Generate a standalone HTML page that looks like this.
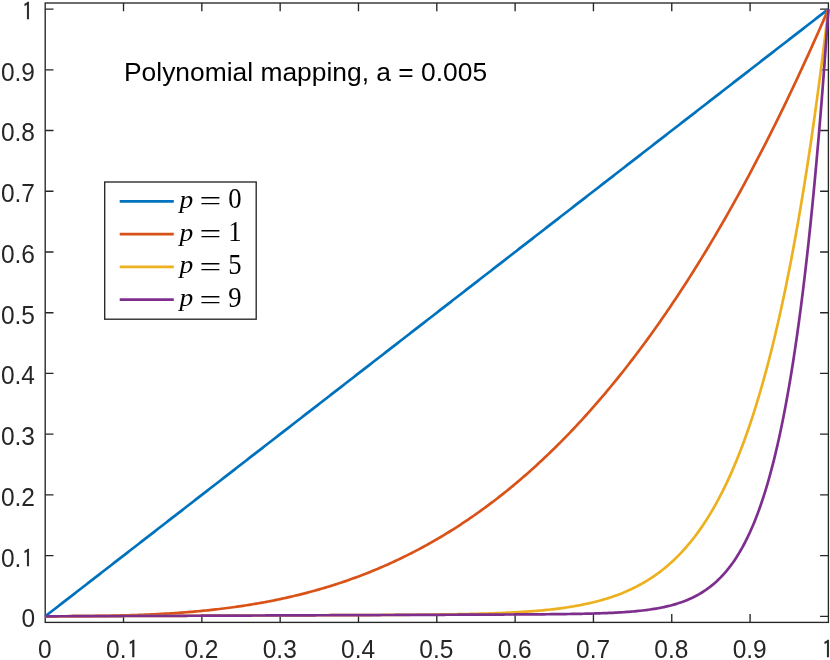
<!DOCTYPE html>
<html><head><meta charset="utf-8"><title>Polynomial mapping</title>
<style>
html,body{margin:0;padding:0;background:#fff;}
svg{display:block}
text{font-family:"Liberation Sans",Arial,Helvetica,sans-serif;font-size:24.5px;fill:#262626}
tspan.one{font-family:"IPAGothic","Liberation Sans",sans-serif;font-size:0.925em;stroke:#262626;stroke-width:.25px}
.lg text{font-family:"Liberation Serif","Times New Roman",serif;font-size:26.7px;fill:#000}
text.ttl{font-size:26.4px;fill:#000}
</style></head><body>
<svg width="830" height="660" viewBox="0 0 830 660">
<rect width="830" height="660" fill="#fff"/>
<g stroke="#262626" stroke-width="1.35" fill="none">
<rect x="45.2" y="3.0" width="783.1999999999999" height="619.4"/>
<path d="M45.2,616.33 h8.3 M828.4,616.33 h-8.3"/>
<path d="M123.52,622.4 v-8.3 M123.52,3.0 v8.3"/>
<path d="M45.2,555.60 h8.3 M828.4,555.60 h-8.3"/>
<path d="M201.84,622.4 v-8.3 M201.84,3.0 v8.3"/>
<path d="M45.2,494.88 h8.3 M828.4,494.88 h-8.3"/>
<path d="M280.16,622.4 v-8.3 M280.16,3.0 v8.3"/>
<path d="M45.2,434.15 h8.3 M828.4,434.15 h-8.3"/>
<path d="M358.48,622.4 v-8.3 M358.48,3.0 v8.3"/>
<path d="M45.2,373.43 h8.3 M828.4,373.43 h-8.3"/>
<path d="M436.80,622.4 v-8.3 M436.80,3.0 v8.3"/>
<path d="M45.2,312.70 h8.3 M828.4,312.70 h-8.3"/>
<path d="M515.12,622.4 v-8.3 M515.12,3.0 v8.3"/>
<path d="M45.2,251.97 h8.3 M828.4,251.97 h-8.3"/>
<path d="M593.44,622.4 v-8.3 M593.44,3.0 v8.3"/>
<path d="M45.2,191.25 h8.3 M828.4,191.25 h-8.3"/>
<path d="M671.76,622.4 v-8.3 M671.76,3.0 v8.3"/>
<path d="M45.2,130.52 h8.3 M828.4,130.52 h-8.3"/>
<path d="M750.08,622.4 v-8.3 M750.08,3.0 v8.3"/>
<path d="M45.2,69.80 h8.3 M828.4,69.80 h-8.3"/>
<path d="M45.2,9.07 h8.3 M828.4,9.07 h-8.3"/>
</g>
<g>
<path d="M45.20,616.33 L47.16,614.81 L49.12,613.29 L51.07,611.77 L53.03,610.25 L54.99,608.74 L56.95,607.22 L58.91,605.70 L60.86,604.18 L62.82,602.66 L64.78,601.15 L66.74,599.63 L68.70,598.11 L70.65,596.59 L72.61,595.07 L74.57,593.56 L76.53,592.04 L78.49,590.52 L80.44,589.00 L82.40,587.48 L84.36,585.96 L86.32,584.45 L88.28,582.93 L90.23,581.41 L92.19,579.89 L94.15,578.37 L96.11,576.86 L98.07,575.34 L100.02,573.82 L101.98,572.30 L103.94,570.78 L105.90,569.27 L107.86,567.75 L109.81,566.23 L111.77,564.71 L113.73,563.19 L115.69,561.67 L117.65,560.16 L119.60,558.64 L121.56,557.12 L123.52,555.60 L125.48,554.08 L127.44,552.57 L129.39,551.05 L131.35,549.53 L133.31,548.01 L135.27,546.49 L137.23,544.98 L139.18,543.46 L141.14,541.94 L143.10,540.42 L145.06,538.90 L147.02,537.38 L148.97,535.87 L150.93,534.35 L152.89,532.83 L154.85,531.31 L156.81,529.79 L158.76,528.28 L160.72,526.76 L162.68,525.24 L164.64,523.72 L166.60,522.20 L168.55,520.68 L170.51,519.17 L172.47,517.65 L174.43,516.13 L176.39,514.61 L178.34,513.09 L180.30,511.58 L182.26,510.06 L184.22,508.54 L186.18,507.02 L188.13,505.50 L190.09,503.99 L192.05,502.47 L194.01,500.95 L195.97,499.43 L197.92,497.91 L199.88,496.39 L201.84,494.88 L203.80,493.36 L205.76,491.84 L207.71,490.32 L209.67,488.80 L211.63,487.29 L213.59,485.77 L215.55,484.25 L217.50,482.73 L219.46,481.21 L221.42,479.70 L223.38,478.18 L225.34,476.66 L227.29,475.14 L229.25,473.62 L231.21,472.10 L233.17,470.59 L235.13,469.07 L237.08,467.55 L239.04,466.03 L241.00,464.51 L242.96,463.00 L244.92,461.48 L246.87,459.96 L248.83,458.44 L250.79,456.92 L252.75,455.40 L254.71,453.89 L256.66,452.37 L258.62,450.85 L260.58,449.33 L262.54,447.81 L264.50,446.30 L266.45,444.78 L268.41,443.26 L270.37,441.74 L272.33,440.22 L274.29,438.71 L276.24,437.19 L278.20,435.67 L280.16,434.15 L282.12,432.63 L284.08,431.11 L286.03,429.60 L287.99,428.08 L289.95,426.56 L291.91,425.04 L293.87,423.52 L295.82,422.01 L297.78,420.49 L299.74,418.97 L301.70,417.45 L303.66,415.93 L305.61,414.42 L307.57,412.90 L309.53,411.38 L311.49,409.86 L313.45,408.34 L315.40,406.82 L317.36,405.31 L319.32,403.79 L321.28,402.27 L323.24,400.75 L325.19,399.23 L327.15,397.72 L329.11,396.20 L331.07,394.68 L333.03,393.16 L334.98,391.64 L336.94,390.12 L338.90,388.61 L340.86,387.09 L342.82,385.57 L344.77,384.05 L346.73,382.53 L348.69,381.02 L350.65,379.50 L352.61,377.98 L354.56,376.46 L356.52,374.94 L358.48,373.43 L360.44,371.91 L362.40,370.39 L364.35,368.87 L366.31,367.35 L368.27,365.83 L370.23,364.32 L372.19,362.80 L374.14,361.28 L376.10,359.76 L378.06,358.24 L380.02,356.73 L381.98,355.21 L383.93,353.69 L385.89,352.17 L387.85,350.65 L389.81,349.14 L391.77,347.62 L393.72,346.10 L395.68,344.58 L397.64,343.06 L399.60,341.54 L401.56,340.03 L403.51,338.51 L405.47,336.99 L407.43,335.47 L409.39,333.95 L411.35,332.44 L413.30,330.92 L415.26,329.40 L417.22,327.88 L419.18,326.36 L421.14,324.85 L423.09,323.33 L425.05,321.81 L427.01,320.29 L428.97,318.77 L430.93,317.25 L432.88,315.74 L434.84,314.22 L436.80,312.70 L438.76,311.18 L440.72,309.66 L442.67,308.15 L444.63,306.63 L446.59,305.11 L448.55,303.59 L450.51,302.07 L452.46,300.55 L454.42,299.04 L456.38,297.52 L458.34,296.00 L460.30,294.48 L462.25,292.96 L464.21,291.45 L466.17,289.93 L468.13,288.41 L470.09,286.89 L472.04,285.37 L474.00,283.86 L475.96,282.34 L477.92,280.82 L479.88,279.30 L481.83,277.78 L483.79,276.26 L485.75,274.75 L487.71,273.23 L489.67,271.71 L491.62,270.19 L493.58,268.67 L495.54,267.16 L497.50,265.64 L499.46,264.12 L501.41,262.60 L503.37,261.08 L505.33,259.57 L507.29,258.05 L509.25,256.53 L511.20,255.01 L513.16,253.49 L515.12,251.97 L517.08,250.46 L519.04,248.94 L520.99,247.42 L522.95,245.90 L524.91,244.38 L526.87,242.87 L528.83,241.35 L530.78,239.83 L532.74,238.31 L534.70,236.79 L536.66,235.27 L538.62,233.76 L540.57,232.24 L542.53,230.72 L544.49,229.20 L546.45,227.68 L548.41,226.17 L550.36,224.65 L552.32,223.13 L554.28,221.61 L556.24,220.09 L558.20,218.58 L560.15,217.06 L562.11,215.54 L564.07,214.02 L566.03,212.50 L567.99,210.98 L569.94,209.47 L571.90,207.95 L573.86,206.43 L575.82,204.91 L577.78,203.39 L579.73,201.88 L581.69,200.36 L583.65,198.84 L585.61,197.32 L587.57,195.80 L589.52,194.29 L591.48,192.77 L593.44,191.25 L595.40,189.73 L597.36,188.21 L599.31,186.69 L601.27,185.18 L603.23,183.66 L605.19,182.14 L607.15,180.62 L609.10,179.10 L611.06,177.59 L613.02,176.07 L614.98,174.55 L616.94,173.03 L618.89,171.51 L620.85,170.00 L622.81,168.48 L624.77,166.96 L626.73,165.44 L628.68,163.92 L630.64,162.40 L632.60,160.89 L634.56,159.37 L636.52,157.85 L638.47,156.33 L640.43,154.81 L642.39,153.30 L644.35,151.78 L646.31,150.26 L648.26,148.74 L650.22,147.22 L652.18,145.70 L654.14,144.19 L656.10,142.67 L658.05,141.15 L660.01,139.63 L661.97,138.11 L663.93,136.60 L665.89,135.08 L667.84,133.56 L669.80,132.04 L671.76,130.52 L673.72,129.01 L675.68,127.49 L677.63,125.97 L679.59,124.45 L681.55,122.93 L683.51,121.41 L685.47,119.90 L687.42,118.38 L689.38,116.86 L691.34,115.34 L693.30,113.82 L695.26,112.31 L697.21,110.79 L699.17,109.27 L701.13,107.75 L703.09,106.23 L705.05,104.72 L707.00,103.20 L708.96,101.68 L710.92,100.16 L712.88,98.64 L714.84,97.12 L716.79,95.61 L718.75,94.09 L720.71,92.57 L722.67,91.05 L724.63,89.53 L726.58,88.02 L728.54,86.50 L730.50,84.98 L732.46,83.46 L734.42,81.94 L736.37,80.42 L738.33,78.91 L740.29,77.39 L742.25,75.87 L744.21,74.35 L746.16,72.83 L748.12,71.32 L750.08,69.80 L752.04,68.28 L754.00,66.76 L755.95,65.24 L757.91,63.73 L759.87,62.21 L761.83,60.69 L763.79,59.17 L765.74,57.65 L767.70,56.13 L769.66,54.62 L771.62,53.10 L773.58,51.58 L775.53,50.06 L777.49,48.54 L779.45,47.03 L781.41,45.51 L783.37,43.99 L785.32,42.47 L787.28,40.95 L789.24,39.44 L791.20,37.92 L793.16,36.40 L795.11,34.88 L797.07,33.36 L799.03,31.84 L800.99,30.33 L802.95,28.81 L804.90,27.29 L806.86,25.77 L808.82,24.25 L810.78,22.74 L812.74,21.22 L814.69,19.70 L816.65,18.18 L818.61,16.66 L820.57,15.15 L822.53,13.63 L824.48,12.11 L826.44,10.59 L828.40,9.07" fill="none" stroke="#0072BD" stroke-width="2.7" stroke-linejoin="round"/>
<path d="M45.20,616.33 L47.16,616.32 L49.12,616.31 L51.07,616.30 L53.03,616.30 L54.99,616.29 L56.95,616.28 L58.91,616.27 L60.86,616.26 L62.82,616.25 L64.78,616.24 L66.74,616.23 L68.70,616.22 L70.65,616.21 L72.61,616.20 L74.57,616.18 L76.53,616.17 L78.49,616.15 L80.44,616.14 L82.40,616.12 L84.36,616.10 L86.32,616.08 L88.28,616.06 L90.23,616.04 L92.19,616.01 L94.15,615.99 L96.11,615.96 L98.07,615.94 L100.02,615.91 L101.98,615.88 L103.94,615.84 L105.90,615.81 L107.86,615.78 L109.81,615.74 L111.77,615.70 L113.73,615.66 L115.69,615.61 L117.65,615.57 L119.60,615.52 L121.56,615.47 L123.52,615.42 L125.48,615.37 L127.44,615.31 L129.39,615.25 L131.35,615.19 L133.31,615.13 L135.27,615.06 L137.23,614.99 L139.18,614.92 L141.14,614.84 L143.10,614.77 L145.06,614.69 L147.02,614.61 L148.97,614.52 L150.93,614.43 L152.89,614.34 L154.85,614.24 L156.81,614.15 L158.76,614.05 L160.72,613.94 L162.68,613.83 L164.64,613.72 L166.60,613.61 L168.55,613.49 L170.51,613.37 L172.47,613.24 L174.43,613.11 L176.39,612.98 L178.34,612.84 L180.30,612.70 L182.26,612.56 L184.22,612.41 L186.18,612.26 L188.13,612.10 L190.09,611.94 L192.05,611.78 L194.01,611.61 L195.97,611.43 L197.92,611.26 L199.88,611.07 L201.84,610.89 L203.80,610.70 L205.76,610.50 L207.71,610.30 L209.67,610.09 L211.63,609.88 L213.59,609.67 L215.55,609.45 L217.50,609.23 L219.46,609.00 L221.42,608.76 L223.38,608.52 L225.34,608.28 L227.29,608.03 L229.25,607.77 L231.21,607.51 L233.17,607.25 L235.13,606.97 L237.08,606.70 L239.04,606.42 L241.00,606.13 L242.96,605.83 L244.92,605.53 L246.87,605.23 L248.83,604.92 L250.79,604.60 L252.75,604.28 L254.71,603.95 L256.66,603.61 L258.62,603.27 L260.58,602.93 L262.54,602.57 L264.50,602.21 L266.45,601.85 L268.41,601.47 L270.37,601.10 L272.33,600.71 L274.29,600.32 L276.24,599.92 L278.20,599.51 L280.16,599.10 L282.12,598.68 L284.08,598.26 L286.03,597.83 L287.99,597.39 L289.95,596.94 L291.91,596.49 L293.87,596.02 L295.82,595.56 L297.78,595.08 L299.74,594.60 L301.70,594.11 L303.66,593.61 L305.61,593.11 L307.57,592.59 L309.53,592.07 L311.49,591.55 L313.45,591.01 L315.40,590.47 L317.36,589.92 L319.32,589.36 L321.28,588.79 L323.24,588.22 L325.19,587.63 L327.15,587.04 L329.11,586.44 L331.07,585.84 L333.03,585.22 L334.98,584.60 L336.94,583.97 L338.90,583.33 L340.86,582.68 L342.82,582.02 L344.77,581.35 L346.73,580.68 L348.69,579.99 L350.65,579.30 L352.61,578.60 L354.56,577.89 L356.52,577.17 L358.48,576.44 L360.44,575.71 L362.40,574.96 L364.35,574.20 L366.31,573.44 L368.27,572.67 L370.23,571.88 L372.19,571.09 L374.14,570.29 L376.10,569.48 L378.06,568.65 L380.02,567.82 L381.98,566.98 L383.93,566.13 L385.89,565.27 L387.85,564.40 L389.81,563.52 L391.77,562.63 L393.72,561.73 L395.68,560.82 L397.64,559.90 L399.60,558.97 L401.56,558.03 L403.51,557.08 L405.47,556.12 L407.43,555.15 L409.39,554.16 L411.35,553.17 L413.30,552.17 L415.26,551.15 L417.22,550.13 L419.18,549.09 L421.14,548.05 L423.09,546.99 L425.05,545.92 L427.01,544.84 L428.97,543.75 L430.93,542.65 L432.88,541.54 L434.84,540.42 L436.80,539.28 L438.76,538.14 L440.72,536.98 L442.67,535.81 L444.63,534.63 L446.59,533.44 L448.55,532.23 L450.51,531.02 L452.46,529.79 L454.42,528.55 L456.38,527.30 L458.34,526.04 L460.30,524.76 L462.25,523.48 L464.21,522.18 L466.17,520.87 L468.13,519.55 L470.09,518.21 L472.04,516.86 L474.00,515.50 L475.96,514.13 L477.92,512.75 L479.88,511.35 L481.83,509.94 L483.79,508.52 L485.75,507.08 L487.71,505.63 L489.67,504.17 L491.62,502.70 L493.58,501.21 L495.54,499.71 L497.50,498.20 L499.46,496.68 L501.41,495.14 L503.37,493.59 L505.33,492.02 L507.29,490.44 L509.25,488.85 L511.20,487.25 L513.16,485.63 L515.12,483.99 L517.08,482.35 L519.04,480.69 L520.99,479.02 L522.95,477.33 L524.91,475.63 L526.87,473.91 L528.83,472.19 L530.78,470.44 L532.74,468.69 L534.70,466.92 L536.66,465.13 L538.62,463.33 L540.57,461.52 L542.53,459.69 L544.49,457.85 L546.45,455.99 L548.41,454.12 L550.36,452.24 L552.32,450.34 L554.28,448.42 L556.24,446.49 L558.20,444.55 L560.15,442.59 L562.11,440.61 L564.07,438.62 L566.03,436.62 L567.99,434.60 L569.94,432.57 L571.90,430.52 L573.86,428.45 L575.82,426.37 L577.78,424.28 L579.73,422.17 L581.69,420.04 L583.65,417.90 L585.61,415.74 L587.57,413.57 L589.52,411.38 L591.48,409.18 L593.44,406.96 L595.40,404.72 L597.36,402.47 L599.31,400.20 L601.27,397.92 L603.23,395.62 L605.19,393.30 L607.15,390.97 L609.10,388.62 L611.06,386.25 L613.02,383.87 L614.98,381.47 L616.94,379.06 L618.89,376.63 L620.85,374.18 L622.81,371.72 L624.77,369.24 L626.73,366.74 L628.68,364.22 L630.64,361.69 L632.60,359.15 L634.56,356.58 L636.52,354.00 L638.47,351.40 L640.43,348.78 L642.39,346.15 L644.35,343.50 L646.31,340.83 L648.26,338.14 L650.22,335.44 L652.18,332.72 L654.14,329.98 L656.10,327.23 L658.05,324.45 L660.01,321.66 L661.97,318.85 L663.93,316.03 L665.89,313.18 L667.84,310.32 L669.80,307.44 L671.76,304.54 L673.72,301.62 L675.68,298.69 L677.63,295.73 L679.59,292.76 L681.55,289.77 L683.51,286.76 L685.47,283.74 L687.42,280.69 L689.38,277.63 L691.34,274.54 L693.30,271.44 L695.26,268.32 L697.21,265.18 L699.17,262.03 L701.13,258.85 L703.09,255.65 L705.05,252.44 L707.00,249.21 L708.96,245.95 L710.92,242.68 L712.88,239.39 L714.84,236.08 L716.79,232.75 L718.75,229.40 L720.71,226.03 L722.67,222.64 L724.63,219.23 L726.58,215.81 L728.54,212.36 L730.50,208.89 L732.46,205.40 L734.42,201.90 L736.37,198.37 L738.33,194.82 L740.29,191.26 L742.25,187.67 L744.21,184.06 L746.16,180.44 L748.12,176.79 L750.08,173.12 L752.04,169.43 L754.00,165.72 L755.95,161.99 L757.91,158.24 L759.87,154.47 L761.83,150.68 L763.79,146.87 L765.74,143.04 L767.70,139.18 L769.66,135.31 L771.62,131.41 L773.58,127.50 L775.53,123.56 L777.49,119.60 L779.45,115.62 L781.41,111.62 L783.37,107.60 L785.32,103.55 L787.28,99.49 L789.24,95.40 L791.20,91.29 L793.16,87.16 L795.11,83.01 L797.07,78.84 L799.03,74.64 L800.99,70.43 L802.95,66.19 L804.90,61.93 L806.86,57.65 L808.82,53.34 L810.78,49.01 L812.74,44.67 L814.69,40.30 L816.65,35.90 L818.61,31.49 L820.57,27.05 L822.53,22.59 L824.48,18.11 L826.44,13.60 L828.40,9.07" fill="none" stroke="#D95319" stroke-width="2.7" stroke-linejoin="round"/>
<path d="M45.20,616.33 L47.16,616.32 L49.12,616.31 L51.07,616.30 L53.03,616.30 L54.99,616.29 L56.95,616.28 L58.91,616.27 L60.86,616.27 L62.82,616.26 L64.78,616.25 L66.74,616.24 L68.70,616.24 L70.65,616.23 L72.61,616.22 L74.57,616.21 L76.53,616.21 L78.49,616.20 L80.44,616.19 L82.40,616.18 L84.36,616.18 L86.32,616.17 L88.28,616.16 L90.23,616.15 L92.19,616.15 L94.15,616.14 L96.11,616.13 L98.07,616.12 L100.02,616.11 L101.98,616.11 L103.94,616.10 L105.90,616.09 L107.86,616.08 L109.81,616.08 L111.77,616.07 L113.73,616.06 L115.69,616.05 L117.65,616.05 L119.60,616.04 L121.56,616.03 L123.52,616.02 L125.48,616.02 L127.44,616.01 L129.39,616.00 L131.35,615.99 L133.31,615.99 L135.27,615.98 L137.23,615.97 L139.18,615.96 L141.14,615.96 L143.10,615.95 L145.06,615.94 L147.02,615.93 L148.97,615.93 L150.93,615.92 L152.89,615.91 L154.85,615.90 L156.81,615.89 L158.76,615.89 L160.72,615.88 L162.68,615.87 L164.64,615.86 L166.60,615.86 L168.55,615.85 L170.51,615.84 L172.47,615.83 L174.43,615.83 L176.39,615.82 L178.34,615.81 L180.30,615.80 L182.26,615.80 L184.22,615.79 L186.18,615.78 L188.13,615.77 L190.09,615.77 L192.05,615.76 L194.01,615.75 L195.97,615.74 L197.92,615.74 L199.88,615.73 L201.84,615.72 L203.80,615.71 L205.76,615.70 L207.71,615.70 L209.67,615.69 L211.63,615.68 L213.59,615.67 L215.55,615.67 L217.50,615.66 L219.46,615.65 L221.42,615.64 L223.38,615.64 L225.34,615.63 L227.29,615.62 L229.25,615.61 L231.21,615.61 L233.17,615.60 L235.13,615.59 L237.08,615.58 L239.04,615.58 L241.00,615.57 L242.96,615.56 L244.92,615.55 L246.87,615.55 L248.83,615.54 L250.79,615.53 L252.75,615.52 L254.71,615.51 L256.66,615.51 L258.62,615.50 L260.58,615.49 L262.54,615.48 L264.50,615.48 L266.45,615.47 L268.41,615.46 L270.37,615.45 L272.33,615.45 L274.29,615.44 L276.24,615.43 L278.20,615.42 L280.16,615.42 L282.12,615.41 L284.08,615.40 L286.03,615.39 L287.99,615.38 L289.95,615.38 L291.91,615.37 L293.87,615.36 L295.82,615.35 L297.78,615.35 L299.74,615.34 L301.70,615.33 L303.66,615.32 L305.61,615.31 L307.57,615.31 L309.53,615.30 L311.49,615.29 L313.45,615.28 L315.40,615.27 L317.36,615.27 L319.32,615.26 L321.28,615.25 L323.24,615.24 L325.19,615.23 L327.15,615.23 L329.11,615.22 L331.07,615.21 L333.03,615.20 L334.98,615.19 L336.94,615.18 L338.90,615.18 L340.86,615.17 L342.82,615.16 L344.77,615.15 L346.73,615.14 L348.69,615.13 L350.65,615.12 L352.61,615.12 L354.56,615.11 L356.52,615.10 L358.48,615.09 L360.44,615.08 L362.40,615.07 L364.35,615.06 L366.31,615.05 L368.27,615.04 L370.23,615.03 L372.19,615.02 L374.14,615.01 L376.10,615.00 L378.06,614.99 L380.02,614.98 L381.98,614.97 L383.93,614.95 L385.89,614.94 L387.85,614.93 L389.81,614.92 L391.77,614.91 L393.72,614.89 L395.68,614.88 L397.64,614.87 L399.60,614.86 L401.56,614.84 L403.51,614.83 L405.47,614.81 L407.43,614.80 L409.39,614.78 L411.35,614.77 L413.30,614.75 L415.26,614.73 L417.22,614.72 L419.18,614.70 L421.14,614.68 L423.09,614.66 L425.05,614.64 L427.01,614.62 L428.97,614.60 L430.93,614.58 L432.88,614.56 L434.84,614.54 L436.80,614.51 L438.76,614.49 L440.72,614.46 L442.67,614.44 L444.63,614.41 L446.59,614.38 L448.55,614.36 L450.51,614.33 L452.46,614.29 L454.42,614.26 L456.38,614.23 L458.34,614.19 L460.30,614.16 L462.25,614.12 L464.21,614.08 L466.17,614.04 L468.13,614.00 L470.09,613.96 L472.04,613.91 L474.00,613.86 L475.96,613.82 L477.92,613.77 L479.88,613.71 L481.83,613.66 L483.79,613.60 L485.75,613.54 L487.71,613.48 L489.67,613.42 L491.62,613.35 L493.58,613.28 L495.54,613.21 L497.50,613.13 L499.46,613.06 L501.41,612.98 L503.37,612.89 L505.33,612.80 L507.29,612.71 L509.25,612.62 L511.20,612.52 L513.16,612.42 L515.12,612.31 L517.08,612.20 L519.04,612.09 L520.99,611.97 L522.95,611.85 L524.91,611.72 L526.87,611.58 L528.83,611.45 L530.78,611.30 L532.74,611.15 L534.70,611.00 L536.66,610.83 L538.62,610.67 L540.57,610.49 L542.53,610.31 L544.49,610.12 L546.45,609.93 L548.41,609.72 L550.36,609.51 L552.32,609.29 L554.28,609.07 L556.24,608.83 L558.20,608.59 L560.15,608.33 L562.11,608.07 L564.07,607.80 L566.03,607.51 L567.99,607.22 L569.94,606.91 L571.90,606.60 L573.86,606.27 L575.82,605.93 L577.78,605.58 L579.73,605.21 L581.69,604.83 L583.65,604.44 L585.61,604.03 L587.57,603.61 L589.52,603.18 L591.48,602.72 L593.44,602.25 L595.40,601.77 L597.36,601.27 L599.31,600.75 L601.27,600.21 L603.23,599.65 L605.19,599.07 L607.15,598.47 L609.10,597.85 L611.06,597.21 L613.02,596.55 L614.98,595.86 L616.94,595.16 L618.89,594.42 L620.85,593.66 L622.81,592.88 L624.77,592.06 L626.73,591.22 L628.68,590.36 L630.64,589.46 L632.60,588.53 L634.56,587.57 L636.52,586.58 L638.47,585.56 L640.43,584.50 L642.39,583.40 L644.35,582.27 L646.31,581.11 L648.26,579.90 L650.22,578.66 L652.18,577.37 L654.14,576.04 L656.10,574.67 L658.05,573.26 L660.01,571.80 L661.97,570.29 L663.93,568.73 L665.89,567.13 L667.84,565.47 L669.80,563.76 L671.76,562.00 L673.72,560.18 L675.68,558.30 L677.63,556.36 L679.59,554.37 L681.55,552.31 L683.51,550.18 L685.47,547.99 L687.42,545.74 L689.38,543.41 L691.34,541.01 L693.30,538.54 L695.26,535.99 L697.21,533.37 L699.17,530.66 L701.13,527.88 L703.09,525.01 L705.05,522.05 L707.00,519.00 L708.96,515.87 L710.92,512.63 L712.88,509.31 L714.84,505.88 L716.79,502.35 L718.75,498.72 L720.71,494.98 L722.67,491.13 L724.63,487.17 L726.58,483.10 L728.54,478.90 L730.50,474.58 L732.46,470.14 L734.42,465.57 L736.37,460.87 L738.33,456.04 L740.29,451.06 L742.25,445.94 L744.21,440.68 L746.16,435.27 L748.12,429.71 L750.08,423.98 L752.04,418.10 L754.00,412.05 L755.95,405.84 L757.91,399.45 L759.87,392.88 L761.83,386.13 L763.79,379.19 L765.74,372.07 L767.70,364.74 L769.66,357.22 L771.62,349.48 L773.58,341.54 L775.53,333.38 L777.49,325.00 L779.45,316.40 L781.41,307.56 L783.37,298.48 L785.32,289.16 L787.28,279.59 L789.24,269.76 L791.20,259.68 L793.16,249.32 L795.11,238.69 L797.07,227.78 L799.03,216.58 L800.99,205.08 L802.95,193.29 L804.90,181.18 L806.86,168.76 L808.82,156.02 L810.78,142.95 L812.74,129.54 L814.69,115.78 L816.65,101.66 L818.61,87.19 L820.57,72.34 L822.53,57.12 L824.48,41.50 L826.44,25.49 L828.40,9.07" fill="none" stroke="#EDB120" stroke-width="2.7" stroke-linejoin="round"/>
<path d="M45.20,616.33 L47.16,616.32 L49.12,616.31 L51.07,616.30 L53.03,616.30 L54.99,616.29 L56.95,616.28 L58.91,616.27 L60.86,616.27 L62.82,616.26 L64.78,616.25 L66.74,616.24 L68.70,616.24 L70.65,616.23 L72.61,616.22 L74.57,616.21 L76.53,616.21 L78.49,616.20 L80.44,616.19 L82.40,616.18 L84.36,616.18 L86.32,616.17 L88.28,616.16 L90.23,616.15 L92.19,616.15 L94.15,616.14 L96.11,616.13 L98.07,616.12 L100.02,616.11 L101.98,616.11 L103.94,616.10 L105.90,616.09 L107.86,616.08 L109.81,616.08 L111.77,616.07 L113.73,616.06 L115.69,616.05 L117.65,616.05 L119.60,616.04 L121.56,616.03 L123.52,616.02 L125.48,616.02 L127.44,616.01 L129.39,616.00 L131.35,615.99 L133.31,615.99 L135.27,615.98 L137.23,615.97 L139.18,615.96 L141.14,615.96 L143.10,615.95 L145.06,615.94 L147.02,615.93 L148.97,615.93 L150.93,615.92 L152.89,615.91 L154.85,615.90 L156.81,615.89 L158.76,615.89 L160.72,615.88 L162.68,615.87 L164.64,615.86 L166.60,615.86 L168.55,615.85 L170.51,615.84 L172.47,615.83 L174.43,615.83 L176.39,615.82 L178.34,615.81 L180.30,615.80 L182.26,615.80 L184.22,615.79 L186.18,615.78 L188.13,615.77 L190.09,615.77 L192.05,615.76 L194.01,615.75 L195.97,615.74 L197.92,615.74 L199.88,615.73 L201.84,615.72 L203.80,615.71 L205.76,615.71 L207.71,615.70 L209.67,615.69 L211.63,615.68 L213.59,615.67 L215.55,615.67 L217.50,615.66 L219.46,615.65 L221.42,615.64 L223.38,615.64 L225.34,615.63 L227.29,615.62 L229.25,615.61 L231.21,615.61 L233.17,615.60 L235.13,615.59 L237.08,615.58 L239.04,615.58 L241.00,615.57 L242.96,615.56 L244.92,615.55 L246.87,615.55 L248.83,615.54 L250.79,615.53 L252.75,615.52 L254.71,615.52 L256.66,615.51 L258.62,615.50 L260.58,615.49 L262.54,615.48 L264.50,615.48 L266.45,615.47 L268.41,615.46 L270.37,615.45 L272.33,615.45 L274.29,615.44 L276.24,615.43 L278.20,615.42 L280.16,615.42 L282.12,615.41 L284.08,615.40 L286.03,615.39 L287.99,615.39 L289.95,615.38 L291.91,615.37 L293.87,615.36 L295.82,615.36 L297.78,615.35 L299.74,615.34 L301.70,615.33 L303.66,615.33 L305.61,615.32 L307.57,615.31 L309.53,615.30 L311.49,615.30 L313.45,615.29 L315.40,615.28 L317.36,615.27 L319.32,615.26 L321.28,615.26 L323.24,615.25 L325.19,615.24 L327.15,615.23 L329.11,615.23 L331.07,615.22 L333.03,615.21 L334.98,615.20 L336.94,615.20 L338.90,615.19 L340.86,615.18 L342.82,615.17 L344.77,615.17 L346.73,615.16 L348.69,615.15 L350.65,615.14 L352.61,615.14 L354.56,615.13 L356.52,615.12 L358.48,615.11 L360.44,615.11 L362.40,615.10 L364.35,615.09 L366.31,615.08 L368.27,615.07 L370.23,615.07 L372.19,615.06 L374.14,615.05 L376.10,615.04 L378.06,615.04 L380.02,615.03 L381.98,615.02 L383.93,615.01 L385.89,615.01 L387.85,615.00 L389.81,614.99 L391.77,614.98 L393.72,614.98 L395.68,614.97 L397.64,614.96 L399.60,614.95 L401.56,614.95 L403.51,614.94 L405.47,614.93 L407.43,614.92 L409.39,614.92 L411.35,614.91 L413.30,614.90 L415.26,614.89 L417.22,614.88 L419.18,614.88 L421.14,614.87 L423.09,614.86 L425.05,614.85 L427.01,614.85 L428.97,614.84 L430.93,614.83 L432.88,614.82 L434.84,614.82 L436.80,614.81 L438.76,614.80 L440.72,614.79 L442.67,614.79 L444.63,614.78 L446.59,614.77 L448.55,614.76 L450.51,614.75 L452.46,614.75 L454.42,614.74 L456.38,614.73 L458.34,614.72 L460.30,614.71 L462.25,614.71 L464.21,614.70 L466.17,614.69 L468.13,614.68 L470.09,614.67 L472.04,614.67 L474.00,614.66 L475.96,614.65 L477.92,614.64 L479.88,614.63 L481.83,614.63 L483.79,614.62 L485.75,614.61 L487.71,614.60 L489.67,614.59 L491.62,614.58 L493.58,614.57 L495.54,614.57 L497.50,614.56 L499.46,614.55 L501.41,614.54 L503.37,614.53 L505.33,614.52 L507.29,614.51 L509.25,614.50 L511.20,614.49 L513.16,614.48 L515.12,614.47 L517.08,614.46 L519.04,614.45 L520.99,614.44 L522.95,614.42 L524.91,614.41 L526.87,614.40 L528.83,614.39 L530.78,614.38 L532.74,614.36 L534.70,614.35 L536.66,614.34 L538.62,614.32 L540.57,614.31 L542.53,614.29 L544.49,614.28 L546.45,614.26 L548.41,614.24 L550.36,614.22 L552.32,614.20 L554.28,614.19 L556.24,614.17 L558.20,614.14 L560.15,614.12 L562.11,614.10 L564.07,614.07 L566.03,614.05 L567.99,614.02 L569.94,613.99 L571.90,613.96 L573.86,613.93 L575.82,613.90 L577.78,613.87 L579.73,613.83 L581.69,613.79 L583.65,613.75 L585.61,613.71 L587.57,613.66 L589.52,613.62 L591.48,613.57 L593.44,613.51 L595.40,613.46 L597.36,613.40 L599.31,613.34 L601.27,613.27 L603.23,613.20 L605.19,613.13 L607.15,613.05 L609.10,612.97 L611.06,612.88 L613.02,612.78 L614.98,612.69 L616.94,612.58 L618.89,612.47 L620.85,612.36 L622.81,612.23 L624.77,612.10 L626.73,611.96 L628.68,611.82 L630.64,611.66 L632.60,611.50 L634.56,611.32 L636.52,611.14 L638.47,610.94 L640.43,610.73 L642.39,610.51 L644.35,610.28 L646.31,610.04 L648.26,609.78 L650.22,609.50 L652.18,609.21 L654.14,608.90 L656.10,608.58 L658.05,608.23 L660.01,607.87 L661.97,607.48 L663.93,607.07 L665.89,606.64 L667.84,606.18 L669.80,605.70 L671.76,605.19 L673.72,604.65 L675.68,604.08 L677.63,603.48 L679.59,602.84 L681.55,602.17 L683.51,601.46 L685.47,600.71 L687.42,599.92 L689.38,599.08 L691.34,598.20 L693.30,597.27 L695.26,596.28 L697.21,595.24 L699.17,594.15 L701.13,592.99 L703.09,591.77 L705.05,590.49 L707.00,589.13 L708.96,587.70 L710.92,586.19 L712.88,584.61 L714.84,582.93 L716.79,581.17 L718.75,579.31 L720.71,577.35 L722.67,575.29 L724.63,573.11 L726.58,570.83 L728.54,568.42 L730.50,565.88 L732.46,563.21 L734.42,560.40 L736.37,557.44 L738.33,554.33 L740.29,551.06 L742.25,547.62 L744.21,543.99 L746.16,540.19 L748.12,536.18 L750.08,531.97 L752.04,527.55 L754.00,522.90 L755.95,518.01 L757.91,512.88 L759.87,507.48 L761.83,501.81 L763.79,495.86 L765.74,489.61 L767.70,483.04 L769.66,476.15 L771.62,468.91 L773.58,461.32 L775.53,453.35 L777.49,444.98 L779.45,436.21 L781.41,427.00 L783.37,417.34 L785.32,407.21 L787.28,396.58 L789.24,385.44 L791.20,373.76 L793.16,361.51 L795.11,348.67 L797.07,335.22 L799.03,321.12 L800.99,306.34 L802.95,290.87 L804.90,274.65 L806.86,257.66 L808.82,239.87 L810.78,221.25 L812.74,201.74 L814.69,181.32 L816.65,159.94 L818.61,137.56 L820.57,114.14 L822.53,89.62 L824.48,63.98 L826.44,37.14 L828.40,9.07" fill="none" stroke="#7E2F8E" stroke-width="2.7" stroke-linejoin="round"/>
</g>
<g>
<text transform="translate(37.99,657.90) scale(1,1.02)">0</text>
<text transform="translate(21.38,627.23) scale(1,1.02)">0</text>
<text transform="translate(106.09,657.90) scale(1,1.02)">0.<tspan class="one" x="21.13">1</tspan></text>
<text transform="translate(0.95,566.50) scale(1,1.02)">0.<tspan class="one" x="21.13">1</tspan></text>
<text transform="translate(184.41,657.90) scale(1,1.02)">0.2</text>
<text transform="translate(0.95,505.78) scale(1,1.02)">0.2</text>
<text transform="translate(262.73,657.90) scale(1,1.02)">0.3</text>
<text transform="translate(0.95,445.05) scale(1,1.02)">0.3</text>
<text transform="translate(341.05,657.90) scale(1,1.02)">0.4</text>
<text transform="translate(0.95,384.33) scale(1,1.02)">0.4</text>
<text transform="translate(419.37,657.90) scale(1,1.02)">0.5</text>
<text transform="translate(0.95,323.60) scale(1,1.02)">0.5</text>
<text transform="translate(497.69,657.90) scale(1,1.02)">0.6</text>
<text transform="translate(0.95,262.87) scale(1,1.02)">0.6</text>
<text transform="translate(576.01,657.90) scale(1,1.02)">0.7</text>
<text transform="translate(0.95,202.15) scale(1,1.02)">0.7</text>
<text transform="translate(654.33,657.90) scale(1,1.02)">0.8</text>
<text transform="translate(0.95,141.42) scale(1,1.02)">0.8</text>
<text transform="translate(732.65,657.90) scale(1,1.02)">0.9</text>
<text transform="translate(0.95,80.70) scale(1,1.02)">0.9</text>
<text transform="translate(821.19,657.90) scale(1,1.02)"><tspan class="one" x="0.7">1</tspan></text>
<text transform="translate(21.38,19.97) scale(1,1.02)"><tspan class="one" x="0.7">1</tspan></text>
</g>
<text class="ttl" x="124" y="80.9">Polynomial mapping, a = 0.005</text>
<g>
<rect x="104.7" y="182.0" width="151.5" height="137.2" fill="#fff" stroke="#262626" stroke-width="1.35"/>
<path d="M119.7,201.3 H173.8" stroke="#0072BD" stroke-width="2.7" fill="none"/>
<g class="lg"><text transform="translate(179.5,207.80) scale(1.03,0.92)" font-style="italic">p</text><text x="199.4" y="210.10" textLength="21.8" lengthAdjust="spacingAndGlyphs" fill="#2b2b2b">=</text><text transform="translate(228.2,208.30) scale(1.0,1.08)">0</text></g>
<path d="M119.7,234.1 H173.8" stroke="#D95319" stroke-width="2.7" fill="none"/>
<g class="lg"><text transform="translate(179.5,240.60) scale(1.03,0.92)" font-style="italic">p</text><text x="199.4" y="242.90" textLength="21.8" lengthAdjust="spacingAndGlyphs" fill="#2b2b2b">=</text><text transform="translate(228.2,241.10) scale(1.0,1.08)">1</text></g>
<path d="M119.7,266.9 H173.8" stroke="#EDB120" stroke-width="2.7" fill="none"/>
<g class="lg"><text transform="translate(179.5,273.40) scale(1.03,0.92)" font-style="italic">p</text><text x="199.4" y="275.70" textLength="21.8" lengthAdjust="spacingAndGlyphs" fill="#2b2b2b">=</text><text transform="translate(228.2,273.90) scale(1.0,1.08)">5</text></g>
<path d="M119.7,299.7 H173.8" stroke="#7E2F8E" stroke-width="2.7" fill="none"/>
<g class="lg"><text transform="translate(179.5,306.20) scale(1.03,0.92)" font-style="italic">p</text><text x="199.4" y="308.50" textLength="21.8" lengthAdjust="spacingAndGlyphs" fill="#2b2b2b">=</text><text transform="translate(228.2,306.70) scale(1.0,1.08)">9</text></g>
</g>
</svg>
</body></html>
